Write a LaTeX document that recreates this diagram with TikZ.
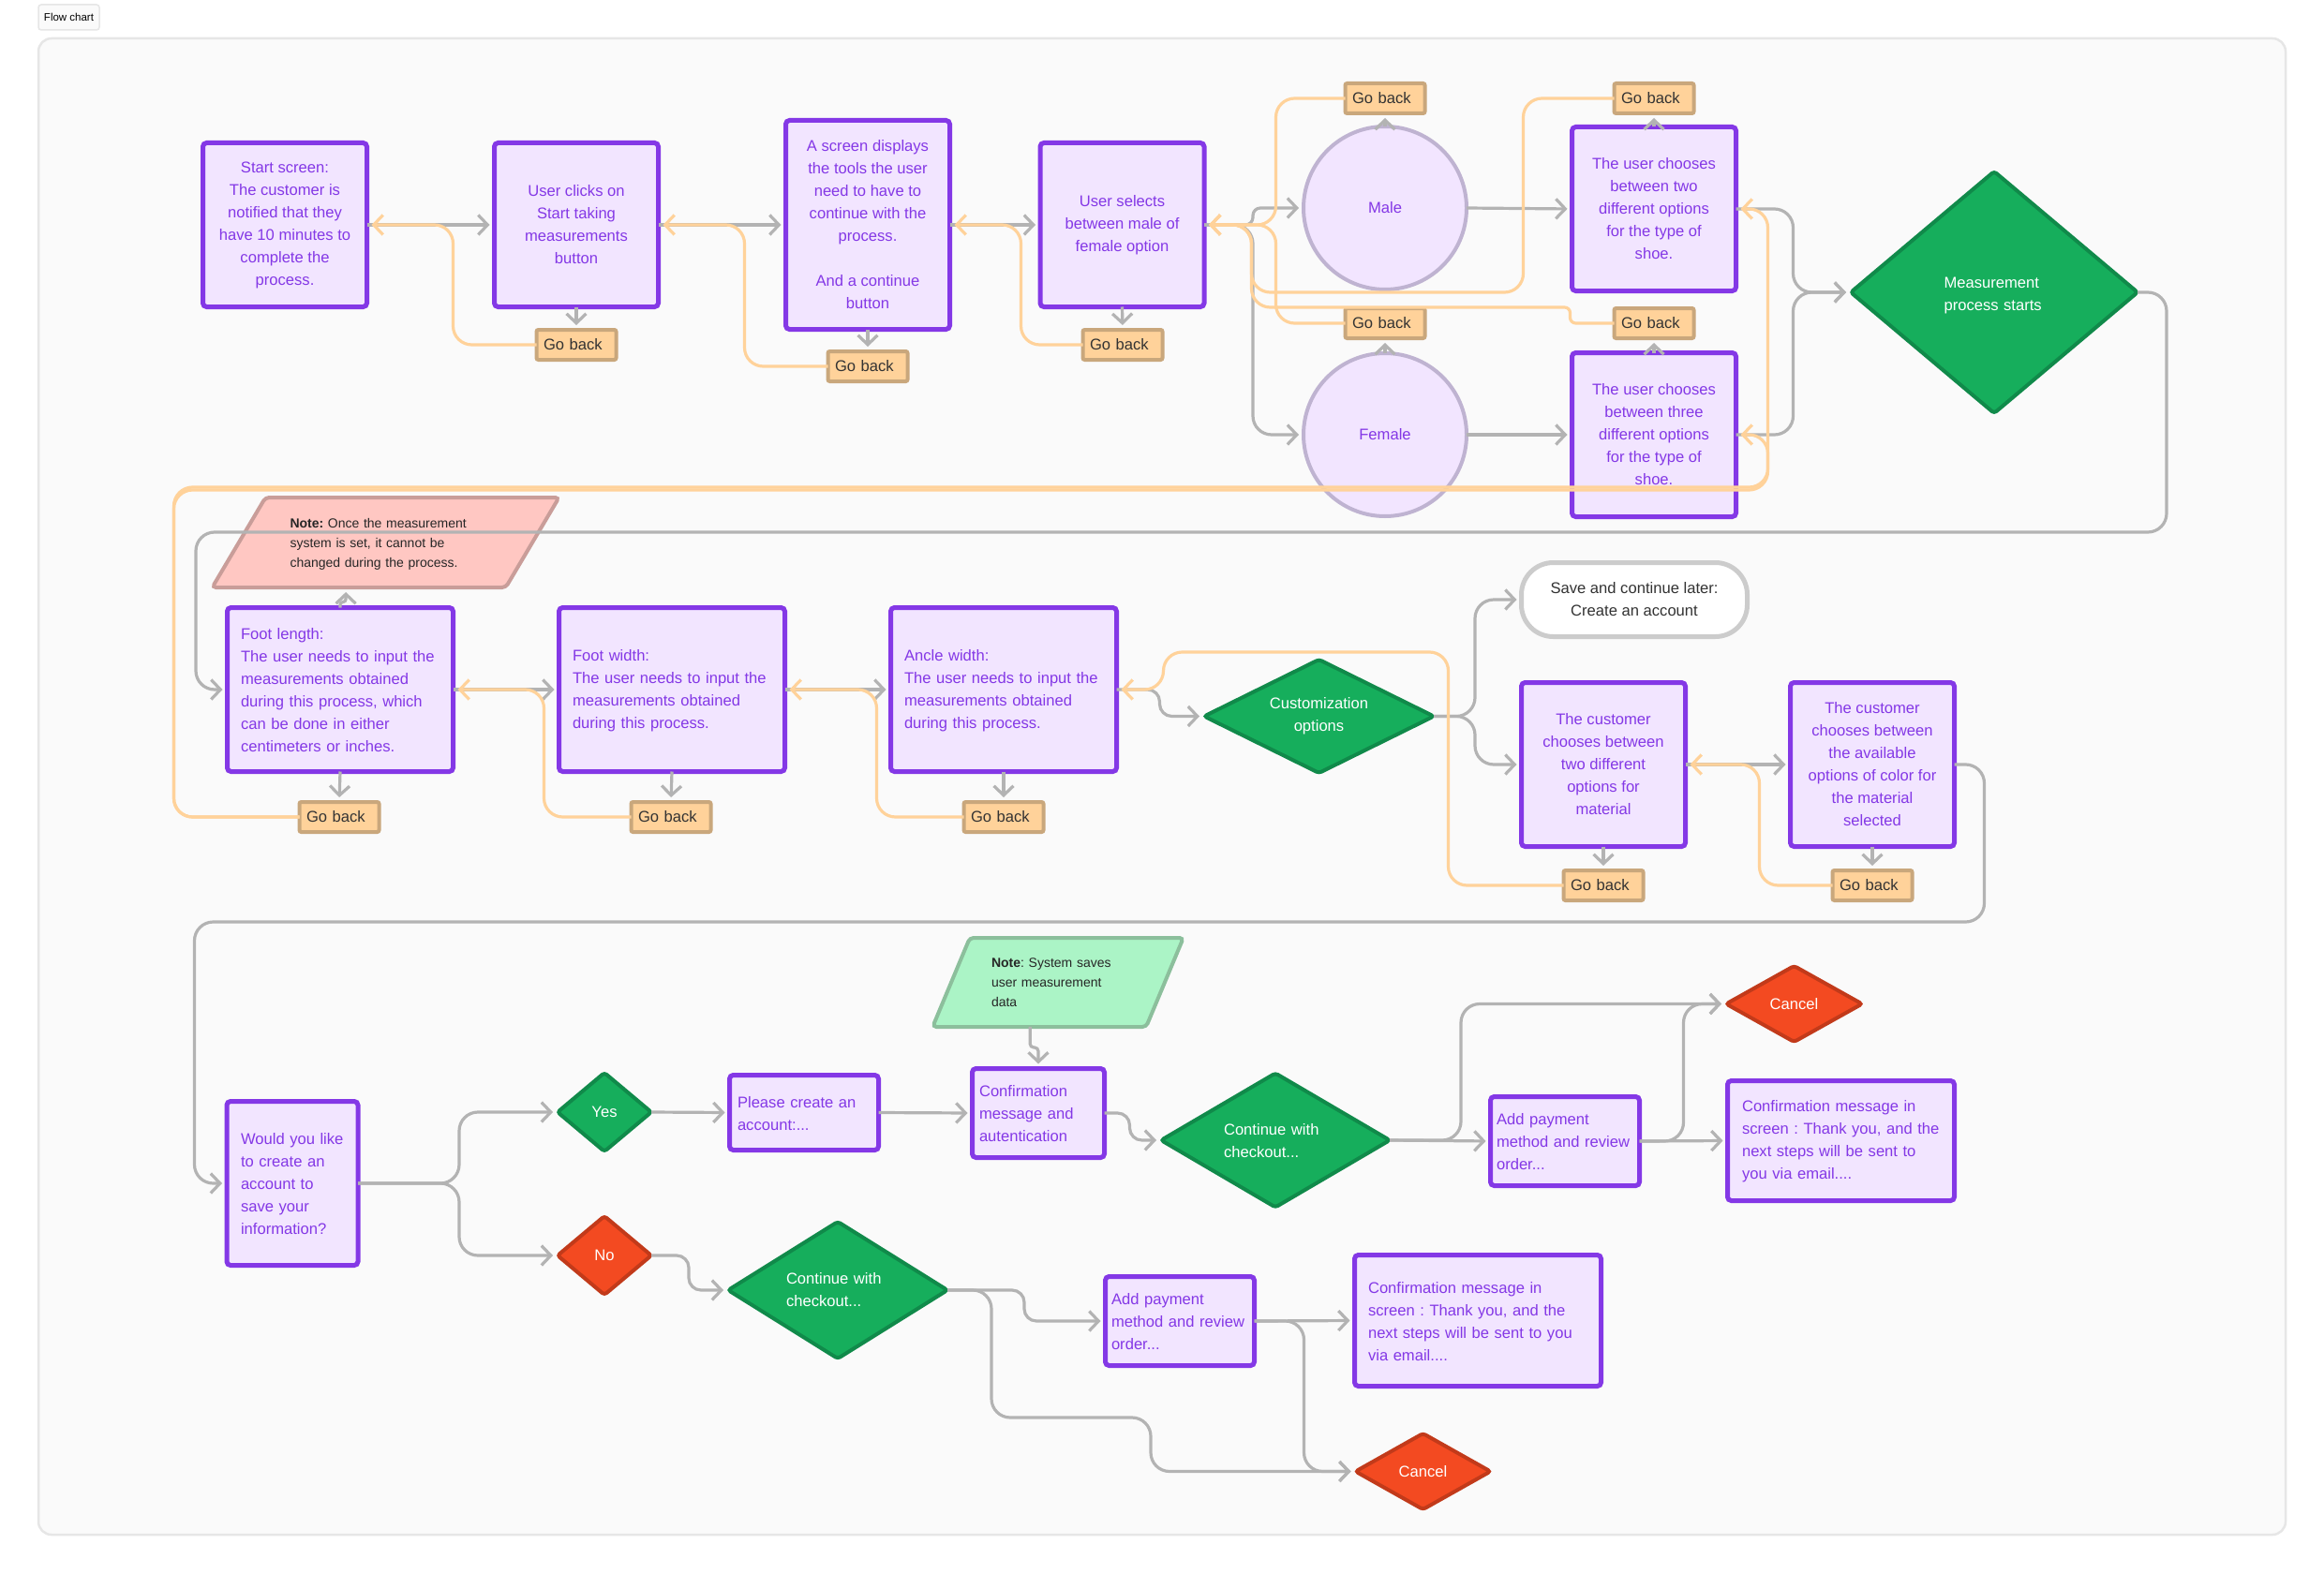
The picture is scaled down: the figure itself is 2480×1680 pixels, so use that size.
\documentclass[tikz,border=0pt]{standalone}
\usepackage{fontspec}
\usepackage{xcolor}
\setmainfont{Liberation Sans}
\frenchspacing
\usetikzlibrary{arrows.meta}
\usetikzlibrary{shapes.geometric}
\definecolor{panelfill}{HTML}{FAFAFA}
\definecolor{panelline}{HTML}{E6E6E6}
\definecolor{purpleline}{HTML}{8438E6}
\definecolor{purplefill}{HTML}{F2E5FF}
\definecolor{circleline}{HTML}{BFB3D1}
\definecolor{backline}{HTML}{C9A77C}
\definecolor{backfill}{HTML}{FFD29A}
\definecolor{flowgray}{HTML}{B3B3B3}
\definecolor{greenfill}{HTML}{16AE5C}
\definecolor{greenline}{HTML}{108A4A}
\definecolor{redfill}{HTML}{F34A21}
\definecolor{redline}{HTML}{C23A1A}
\definecolor{noteredfill}{HTML}{FFC7C2}
\definecolor{noteredline}{HTML}{C99D99}
\definecolor{notegreenfill}{HTML}{ABF4C6}
\definecolor{notegreenline}{HTML}{8CBF9C}
\tikzset{
	lowtext/.style={execute at begin node=\rule{0pt}{17.5pt}},
	slighttext/.style={execute at begin node=\rule{0pt}{14pt}},
	plainbox/.style={draw=purpleline,fill=purplefill,line width=5pt,rounded corners=4pt,text=purpleline,inner sep=0pt,outer sep=0pt,font=\fontsize{16.6}{24}\selectfont},
	screenbox/.style={plainbox,lowtext,align=center},
	leftbox/.style={plainbox,slighttext,align=left},
	backbox/.style={draw=backline,fill=backfill,line width=4pt,rounded corners=2pt,inner sep=0pt,outer sep=0pt,minimum width=85pt,minimum height=32pt,text width=70pt,align=left,font=\fontsize{16.6}{24}\selectfont,text=black!80},
	genderdisc/.style={circle,draw=circleline,fill=purplefill,line width=4pt,inner sep=0pt,outer sep=0pt,minimum size=174pt,text=purpleline,font=\fontsize{16.6}{24}\selectfont},
	choice/.style={diamond,draw=greenline,fill=greenfill,line width=4pt,rounded corners=3pt,inner sep=0pt,outer sep=0pt,text=white,align=center,font=\fontsize{16.6}{24}\selectfont},
	stopchoice/.style={choice,draw=redline,fill=redfill},
	noteshape/.style={trapezium,trapezium stretches=true,line width=4pt,rounded corners=4pt,inner sep=0pt,outer sep=0pt,align=left,text=black!85,font=\fontsize{14}{21}\selectfont},
	flow/.style={draw=flowgray,line width=3.2pt,rounded corners=20pt,shorten >=5pt,-{Straight Barb[length=10pt,width=21pt]}},
	backflow/.style={flow,draw=backfill}
}
\begin{document}
\begin{tikzpicture}[x=1pt,y=-1pt]
	\useasboundingbox (0,0) rectangle (2480,1680);
	\fill[white] (0,0) rectangle (2480,1680);
	\draw[panelline,fill=panelfill,line width=2.5pt,rounded corners=14pt] (41,41) rectangle (2439,1638);
	\node[draw=panelline,fill=panelfill,line width=1.5pt,rounded corners=3pt,minimum width=65pt,minimum height=27pt,inner sep=0pt,font=\fontsize{11.5}{14}\selectfont] (title) at (73.5,18.5) {Flow chart};

	\node[screenbox,minimum width=175pt,minimum height=175pt] (start) at (304,240) {Start screen:\\The customer is\\notified that they\\have 10 minutes to\\complete the\\process.};
	\node[screenbox,minimum width=175pt,minimum height=175pt] (clicks) at (615,240) {User clicks on\\Start taking\\measurements\\button};
	\node[screenbox,minimum width=175pt,minimum height=223pt] (tools) at (926,240) {A screen displays\\the tools the user\\need to have to\\continue with the\\process.\\~\\And a continue\\button};
	\node[screenbox,minimum width=175pt,minimum height=175pt] (gender) at (1197.5,240) {User selects\\between male of\\female option};
	\node[genderdisc] (male) at (1478,222) {Male};
	\node[genderdisc] (female) at (1478,464) {Female};
	\node[screenbox,minimum width=175pt,minimum height=175pt] (shoetwo) at (1765,223) {The user chooses\\between two\\different options\\for the type of\\shoe.};
	\node[screenbox,minimum width=175pt,minimum height=175pt] (shoethree) at (1765,464) {The user chooses\\between three\\different options\\for the type of\\shoe.};
	\node[choice,lowtext,aspect=1.18,minimum width=306pt,minimum height=258pt,text width=107pt,align=left] (measure) at (2128,312) {Measurement\\process starts};

	\node[backbox] (backclicks) at (615,368) {Go back};
	\node[backbox] (backtools) at (926,391) {Go back};
	\node[backbox] (backgender) at (1198,368) {Go back};
	\node[backbox] (backmale) at (1478,105) {Go back};
	\node[backbox] (backfemale) at (1478,345) {Go back};
	\node[backbox] (backshoetwo) at (1765,105) {Go back};
	\node[backbox] (backshoethree) at (1765,345) {Go back};

	\node[noteshape,execute at begin node=\rule{0pt}{13pt},draw=noteredline,fill=noteredfill,trapezium left angle=52,trapezium right angle=128,minimum width=371pt,minimum height=96pt,text width=204pt] (notered) at (411.5,579) {\textbf{Note:} Once the measurement\\system is set, it cannot be\\changed during the process.};
	\node[leftbox,minimum width=241pt,minimum height=175pt,text width=212pt] (footlen) at (363,736) {Foot length:\\The user needs to input the\\measurements obtained\\during this process, which\\can be done in either\\centimeters or inches.};
	\node[leftbox,minimum width=241pt,minimum height=175pt,text width=212pt] (footwid) at (717,736) {Foot width:\\The user needs to input the\\measurements obtained\\during this process.};
	\node[leftbox,minimum width=241pt,minimum height=175pt,text width=212pt] (ancle) at (1071,736) {Ancle width:\\The user needs to input the\\measurements obtained\\during this process.};
	\node[choice,lowtext,aspect=2,minimum width=245pt,minimum height=121pt] (custom) at (1407.5,764.5) {Customization\\options};
	\node[screenbox,draw=black!20,fill=white,text=black!80,rounded corners=34pt,minimum width=241pt,minimum height=79pt] (later) at (1744,640) {Save and continue later:\\Create an account};
	\node[screenbox,minimum width=175pt,minimum height=175pt] (material) at (1711,816) {The customer\\chooses between\\two different\\options for\\material};
	\node[screenbox,minimum width=175pt,minimum height=175pt] (color) at (1998,816) {The customer\\chooses between\\the available\\options of color for\\the material\\selected};

	\node[backbox] (backlen) at (362,872) {Go back};
	\node[backbox] (backwid) at (716,872) {Go back};
	\node[backbox] (backancle) at (1071,872) {Go back};
	\node[backbox] (backmaterial) at (1711,945) {Go back};
	\node[backbox] (backcolor) at (1998,945) {Go back};

	\node[leftbox,minimum width=140pt,minimum height=175pt,text width=110pt] (would) at (312,1263) {Would you like\\to create an\\account to\\save your\\information?};
	\node[choice,aspect=1.19,minimum width=100pt,minimum height=84pt] (yes) at (645,1187) {Yes};
	\node[stopchoice,aspect=1.19,minimum width=100pt,minimum height=84pt] (no) at (645,1340) {No};
	\node[leftbox,minimum width=159pt,minimum height=80pt,text width=142pt] (please) at (858,1187.5) {Please create an\\account:...};
	\node[leftbox,minimum width=141pt,minimum height=95pt,text width=126pt] (confirm) at (1108,1188) {Confirmation\\message and\\autentication};
	\node[noteshape,draw=notegreenline,fill=notegreenfill,trapezium left angle=60,trapezium right angle=120,minimum width=268pt,minimum height=95pt,text width=142pt] (notegreen) at (1129,1048.5) {\textbf{Note}: System saves\\user measurement\\data};
	\node[choice,slighttext,aspect=1.7,minimum width=244pt,minimum height=143pt,text width=110pt,align=left] (checkoutyes) at (1361,1217) {Continue with\\checkout...};
	\node[leftbox,minimum width=159pt,minimum height=95pt,text width=146pt] (payyes) at (1670,1218) {Add payment\\method and review\\order...};
	\node[leftbox,minimum width=242pt,minimum height=128pt,text width=211pt] (thanksyes) at (1964.5,1217.5) {Confirmation message in\\screen : Thank you, and the\\next steps will be sent to\\you via email....};
	\node[stopchoice,aspect=1.77,minimum width=145pt,minimum height=81pt] (cancelyes) at (1914.5,1071.5) {Cancel};
	\node[choice,aspect=1.6,minimum width=234pt,minimum height=146pt,text width=110pt,align=left] (checkoutno) at (894,1377) {Continue with\\checkout...};
	\node[leftbox,minimum width=159pt,minimum height=95pt,text width=146pt] (payno) at (1259,1410) {Add payment\\method and review\\order...};
	\node[leftbox,minimum width=263pt,minimum height=140pt,text width=234pt] (thanksno) at (1577,1409.5) {Confirmation message in\\screen : Thank you, and the\\next steps will be sent to you\\via email....};
	\node[stopchoice,aspect=1.77,minimum width=144pt,minimum height=81pt] (cancelno) at (1518.5,1570.5) {Cancel};

	\draw[flow] (start.east) -- (clicks.west);
	\draw[flow] (clicks.east) -- (tools.west);
	\draw[flow] (tools.east) -- (gender.west);
	\draw[flow] (clicks.south) -- (backclicks.north);
	\draw[flow] (tools.south) -- (backtools.north);
	\draw[flow] (gender.south) -- (backgender.north);
	\draw[flow,rounded corners=8pt] (gender.east) -- ++(52,0) |- (male.west);
	\draw[flow] (gender.east) -- ++(52,0) |- (female.west);
	\draw[flow] (male.east) -- (shoetwo.west);
	\draw[flow] (female.east) -- (shoethree.west);
	\draw[flow] (male.north) -- (backmale.south);
	\draw[flow] (female.north) -- (backfemale.south);
	\draw[flow] (shoetwo.north) -- (backshoetwo.south);
	\draw[flow] (shoethree.north) -- (backshoethree.south);
	\draw[flow] (shoetwo.east) -- ++(61,0) |- (measure.west);
	\draw[flow] (shoethree.east) -- ++(61,0) |- (measure.west);
	\draw[flow] (measure.east) -- ++(31,0) -- ++(0,256) -- ++(-2103,0) |- (footlen.west);
	\draw[flow,rounded corners=3pt] (footlen.north) -- ++(0,-6) -| ([xshift=-14pt]notered.bottom side);
	\draw[flow] (footlen.east) -- (footwid.west);
	\draw[flow] (footwid.east) -- (ancle.west);
	\draw[flow] (footlen.south) -- (backlen.north);
	\draw[flow] (footwid.south) -- (backwid.north);
	\draw[flow] (ancle.south) -- (backancle.north);
	\draw[flow,rounded corners=13pt] (ancle.east) -- ++(46,0) |- (custom.west);
	\draw[flow] (custom.east) -- ++(44,0) |- (later.west);
	\draw[flow] (custom.east) -- ++(44,0) |- (material.west);
	\draw[flow] (material.east) -- (color.west);
	\draw[flow] (material.south) -- (backmaterial.north);
	\draw[flow] (color.south) -- (backcolor.north);
	\draw[flow] (color.east) -- ++(32,0) -- ++(0,168) -- ++(-1910,0) |- (would.west);
	\draw[flow] (would.east) -- ++(108,0) |- (yes.west);
	\draw[flow] (would.east) -- ++(108,0) |- (no.west);
	\draw[flow] (yes.east) -- (please.west);
	\draw[flow] (please.east) -- (confirm.west);
	\draw[flow,rounded corners=4pt] ([xshift=-10pt]notegreen.bottom side) -- ++(0,22) -| (confirm.north);
	\draw[flow,rounded corners=13pt] (confirm.east) -- ++(27,0) |- (checkoutyes.west);
	\draw[flow] (checkoutyes.east) -- (payyes.west);
	\draw[flow] (checkoutyes.east) -- ++(76,0) |- (cancelyes.west);
	\draw[flow] (payyes.east) -- (thanksyes.west);
	\draw[flow] (payyes.east) -- ++(47,0) |- (cancelyes.west);
	\draw[flow,rounded corners=13pt] (no.east) -- ++(40,0) |- (checkoutno.west);
	\draw[flow,rounded corners=13pt] (checkoutno.east) -- ++(82,0) |- (payno.west);
	\draw[flow] (checkoutno.east) -- ++(47,0) -- ++(0,136) -- ++(170,0) |- (cancelno.west);
	\draw[flow] (payno.east) -- (thanksno.west);
	\draw[flow] (payno.east) -- ++(53,0) |- (cancelno.west);

	\draw[backflow] (backclicks.west) -- ++(-89,0) |- (start.east);
	\draw[backflow] (backtools.west) -- ++(-89,0) |- (clicks.east);
	\draw[backflow] (backgender.west) -- ++(-66,0) |- (tools.east);
	\draw[backflow] (backmale.west) -- ++(-74,0) |- (gender.east);
	\draw[backflow] (backfemale.west) -- ++(-74,0) |- (gender.east);
	\draw[backflow] (backshoetwo.west) -- ++(-97,0) -- ++(0,207) -- ++(-290,0) |- (gender.east);
	\draw[backflow] (backshoethree.west) [rounded corners=6pt] -- ++(-47,0) -- ++(0,-17) [rounded corners=20pt] -- ++(-340,0) |- (gender.east);
	\draw[backflow] (backlen.west) -- ++(-134,0) -- ++(0,-352) -- ++(1701,0) |- (shoetwo.east);
	\draw[backflow] (backlen.west) -- ++(-134,0) -- ++(0,-349) -- ++(1701,0) |- (shoethree.east);
	\draw[backflow] (backwid.west) -- ++(-93,0) |- (footlen.east);
	\draw[backflow] (backancle.west) -- ++(-93,0) |- (footwid.east);
	\draw[backflow] (backmaterial.west) -- ++(-123,0) -- ++(0,-249) -- ++(-304,0) |- (ancle.east);
	\draw[backflow] (backcolor.west) -- ++(-78,0) |- (material.east);
\end{tikzpicture}
\end{document}
